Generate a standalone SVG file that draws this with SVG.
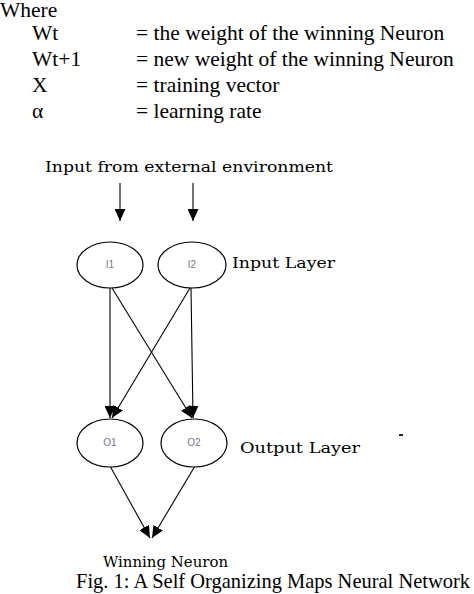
<svg xmlns="http://www.w3.org/2000/svg" width="474" height="594" viewBox="0 0 474 594">
<style>
.t{font-family:"Liberation Serif","Times New Roman",serif;font-size:21.5px;fill:#000}
.d{font-family:"DejaVu Serif","Liberation Serif",serif;font-size:14.5px;fill:#000}
.n{font-family:"Liberation Sans",Arial,sans-serif;font-size:10px;fill:#7a7390;text-anchor:middle}
.e{fill:#fff;stroke:#000;stroke-width:1.2}
.c{stroke:#000;stroke-width:1.1;fill:none;marker-end:url(#ah)}
</style>
<defs>
<marker id="ah" markerUnits="userSpaceOnUse" markerWidth="12" markerHeight="11" refX="12" refY="5.5" orient="auto">
<path d="M0,0 L12,5.5 L0,11 z" fill="#000"/>
</marker>
</defs>
<rect width="474" height="594" fill="#fff"/>
<g id="legend">
<text class="t" x="0" y="17">Where</text>
<text class="t" x="32" y="40">Wt</text>
<text class="t" x="136" y="40">= the weight of the winning Neuron</text>
<text class="t" x="32" y="66">Wt+1</text>
<text class="t" x="136" y="66">= new weight of the winning Neuron</text>
<text class="t" x="32" y="92">X</text>
<text class="t" x="136" y="92">= training vector</text>
<text class="t" x="32" y="118">α</text>
<text class="t" x="136" y="118">= learning rate</text>
</g>
<g id="input-label"><text class="d" x="45" y="172" textLength="288" lengthAdjust="spacingAndGlyphs">Input from external environment</text></g>
<g id="connectors">
<line class="c" x1="120" y1="183" x2="120" y2="221"/>
<line class="c" x1="193" y1="183" x2="193" y2="221"/>
<line class="c" x1="110" y1="288" x2="110" y2="418"/>
<line class="c" x1="191" y1="288" x2="193" y2="418"/>
<line class="c" x1="112" y1="288" x2="192" y2="418"/>
<line class="c" x1="190" y1="288" x2="112" y2="418"/>
<line class="c" x1="110" y1="466" x2="150" y2="538"/>
<line class="c" x1="195" y1="466" x2="152" y2="538"/>
</g>
<g id="I1"><ellipse class="e" cx="110" cy="265" rx="33" ry="23"/><text class="n" x="110" y="268">I1</text></g>
<g id="I2"><ellipse class="e" cx="192" cy="265" rx="34" ry="23"/><text class="n" x="192" y="268">I2</text></g>
<g id="input-layer"><text class="d" x="232" y="268" textLength="103" lengthAdjust="spacingAndGlyphs">Input Layer</text></g>
<g id="O1"><ellipse class="e" cx="110" cy="443" rx="33" ry="24"/><text class="n" x="110" y="446" fill="#8a8470">O1</text></g>
<g id="O2"><ellipse class="e" cx="194" cy="443" rx="33" ry="24"/><text class="n" x="194" y="446" fill="#8a8470">O2</text></g>
<g id="output-layer"><text class="d" x="240" y="453" textLength="120" lengthAdjust="spacingAndGlyphs">Output Layer</text></g>
<rect x="399" y="434" width="4" height="2" fill="#222"/>
<g id="winning"><text class="d" x="103" y="567" textLength="125" lengthAdjust="spacingAndGlyphs">Winning Neuron</text></g>
<g id="caption"><text class="t" x="76" y="588" font-size="20.5" textLength="394" lengthAdjust="spacingAndGlyphs">Fig. 1: A Self Organizing Maps Neural Network</text></g>
</svg>
